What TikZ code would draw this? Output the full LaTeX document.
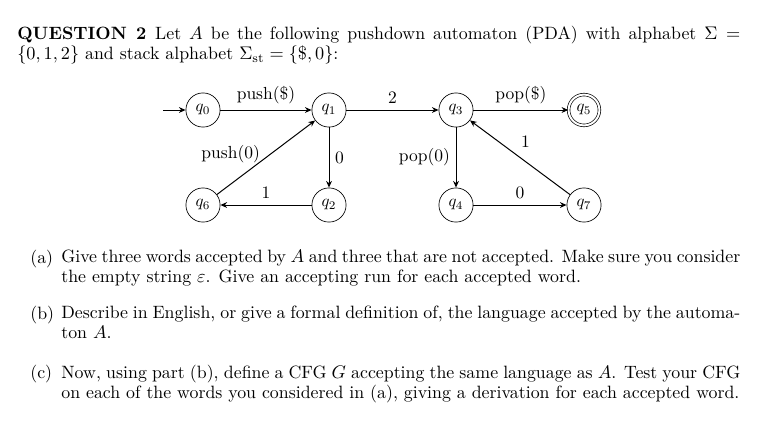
\documentclass[tikz,border=0pt]{standalone}
\usepackage{amsmath,amssymb}
\usetikzlibrary{arrows.meta}
\begin{document}
\begin{tikzpicture}[x=0.6pt,y=-0.6pt,
  st/.style={draw,circle,minimum size=20.5pt,inner sep=0pt,font=\fontsize{10}{12}\selectfont},
  acc/.style={st,double,double distance=1.2pt,minimum size=18.5pt},
  tr/.style={-{Stealth[length=4pt,width=3.5pt]},semithick},
  lab/.style={font=\fontsize{10.5}{12}\selectfont}]
\useasboundingbox (0,0) rectangle (764,439);
\node[anchor=north west,text width=433.8pt,align=justify,inner sep=0pt,font=\fontsize{10.7}{12}\selectfont] (p) at (17,26)
{\textbf{QUESTION 2}\enspace Let $A$ be the following pushdown automaton (PDA) with alphabet $\Sigma=$\linebreak $\{0,1,2\}$ and stack alphabet $\Sigma_{\text{st}}=\{\$,0\}$:};
\node[st] (q0) at (203,110) {$q_0$};
\node[st] (q1) at (329,110) {$q_1$};
\node[st] (q3) at (456,110) {$q_3$};
\node[acc] (q5) at (584,110) {$q_5$};
\node[st] (q6) at (203,205) {$q_6$};
\node[st] (q2) at (329,205) {$q_2$};
\node[st] (q4) at (456,205) {$q_4$};
\node[st] (q7) at (584,205) {$q_7$};
\coordinate (in) at (163,110);
\draw[tr] (in) -- (q0);
\draw[tr] (q0) -- node[lab,above]{push(\$)} (q1);
\draw[tr] (q1) -- node[lab,above]{2} (q3);
\draw[tr] (q3) -- node[lab,above]{pop(\$)} (q5);
\draw[tr] (q1) -- node[lab,right]{0} (q2);
\draw[tr] (q2) -- node[lab,above]{1} (q6);
\draw[tr] (q6) -- node[lab,left,pos=0.5,yshift=2pt]{push(0)} (q1);
\draw[tr] (q3) -- node[lab,left]{pop(0)} (q4);
\draw[tr] (q4) -- node[lab,above]{0} (q7);
\draw[tr] (q7) -- node[lab,above right,pos=0.55]{1} (q3);
\begin{scope}[every node/.style={font=\fontsize{10.7}{12}\selectfont,inner sep=0pt}]
\node[anchor=north west] (la) at (30,250) {(a)};
\node[anchor=north west,text width=407.4pt,align=justify] (ta) at (61,250)
{Give three words accepted by $A$ and three that are not accepted. Make sure you consider\linebreak the empty string $\varepsilon$. Give an accepting run for each accepted word.};
\node[anchor=north west] (lb) at (30,306) {(b)};
\node[anchor=north west,text width=407.4pt,align=justify] (tb) at (61,306)
{Describe in English, or give a formal definition of, the language accepted by the automa-\linebreak ton $A$.};
\node[anchor=north west] (lc) at (30,365) {(c)};
\node[anchor=north west,text width=407.4pt,align=justify] (tc) at (61,365)
{Now, using part (b), define a CFG $G$ accepting the same language as $A$. Test your CFG\linebreak on each of the words you considered in (a), giving a derivation for each accepted word.};
\end{scope}
\end{tikzpicture}
\end{document}
